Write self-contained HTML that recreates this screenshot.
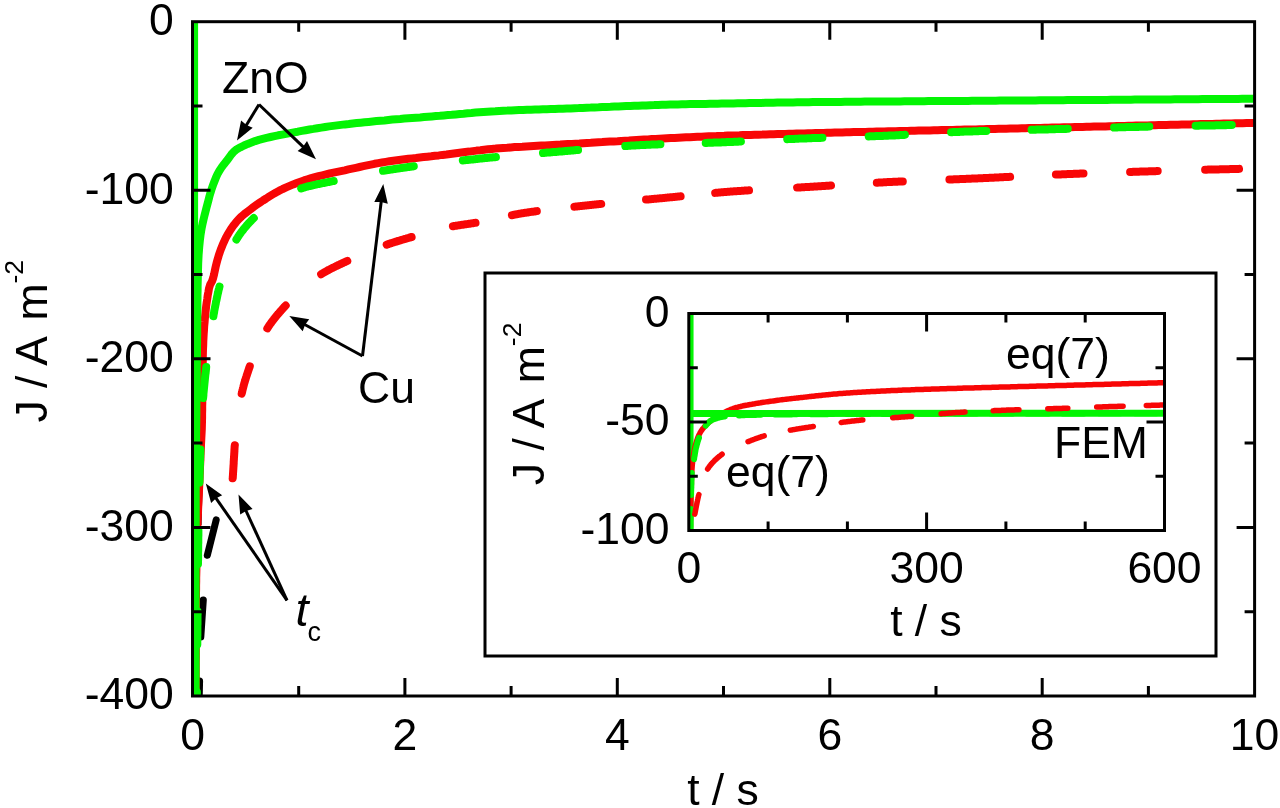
<!DOCTYPE html><html><head><meta charset="utf-8"><style>html,body{margin:0;padding:0;background:#fff;overflow:hidden}svg{display:block}</style></head><body><svg width="1280" height="808" viewBox="0 0 1280 808">
<rect width="1280" height="808" fill="#fff"/>
<defs><clipPath id="cm"><rect x="192.5" y="21.7" width="1062.1" height="674.3"/></clipPath><clipPath id="ci"><rect x="688.8" y="313.5" width="475.7" height="217"/></clipPath></defs>
<line x1="195.6" y1="21.7" x2="195.6" y2="696.0" stroke="#03f403" stroke-width="5"/>
<path d="M232.7,478.3 L232.8,477.6 L232.8,476.8 L232.9,476.0 L232.9,475.2 L233.0,474.4 L233.0,473.6 L233.1,472.8 L233.1,472.0 L233.2,471.3 L233.2,470.5 L233.3,469.7 L233.3,468.9 L233.4,468.1 L233.4,467.3 L233.5,466.5 L233.5,465.7 L233.6,464.9 L233.6,464.2 L233.7,463.4 L233.7,462.6 L233.7,461.8 L233.8,461.0 L233.8,460.2 L233.9,459.4 L233.9,458.6 L234.0,457.8 L234.0,457.1 L234.1,456.3 L234.1,455.5 L234.2,454.7 L234.2,453.9 L234.3,453.1 L234.3,452.3 L234.4,451.5 L234.4,450.7 L234.4,450.0 L234.5,449.2 L234.5,448.4 L234.6,447.6 L234.6,446.8 L234.7,446.0 L234.8,445.2M241.7,393.6 L241.9,392.8 L242.1,392.1 L242.3,391.3 L242.4,390.5 L242.6,389.8 L242.8,389.0 L243.0,388.2 L243.2,387.5 L243.4,386.7 L243.6,385.9 L243.8,385.2 L244.0,384.4 L244.2,383.6 L244.4,382.9 L244.7,382.1 L244.9,381.3 L245.1,380.6 L245.3,379.8 L245.6,379.1 L245.8,378.3 L246.0,377.6 L246.3,376.8 L246.5,376.0 L246.8,375.3 L247.0,374.5 L247.3,373.8 L247.5,373.0 L247.8,372.3 L248.0,371.5 L248.3,370.8 L248.5,370.0 L248.8,369.3 L249.0,368.5 L249.3,367.8 L249.6,367.0 L249.8,366.3M267.3,328.4 L267.7,327.7 L268.2,327.1 L268.6,326.4 L269.0,325.8 L269.5,325.1 L269.9,324.5 L270.4,323.8 L270.9,323.2 L271.3,322.5 L271.8,321.9 L272.3,321.3 L272.8,320.6 L273.2,320.0 L273.7,319.4 L274.2,318.7 L274.7,318.1 L275.2,317.5 L275.7,316.9 L276.2,316.3 L276.7,315.6 L277.2,315.0 L277.7,314.4 L278.3,313.8 L278.8,313.2 L279.3,312.6 L279.8,312.0 L280.3,311.4 L280.9,310.8 L281.4,310.2 L281.9,309.6 L282.5,309.0 L283.0,308.4 L283.5,307.8 L284.1,307.2 L284.6,306.6 L285.1,306.1 L285.7,305.5M321.1,274.2 L321.8,273.8 L322.5,273.4 L323.1,273.0 L323.8,272.6 L324.5,272.2 L325.2,271.9 L325.9,271.5 L326.5,271.1 L327.2,270.7 L327.9,270.3 L328.6,270.0 L329.3,269.6 L330.0,269.2 L330.7,268.9 L331.4,268.5 L332.1,268.1 L332.9,267.8 L333.6,267.4 L334.3,267.1 L335.0,266.7 L335.7,266.4 L336.4,266.0 L337.1,265.7 L337.9,265.3 L338.6,265.0 L339.3,264.6 L340.0,264.3 L340.8,264.0 L341.5,263.6 L342.2,263.3 L342.9,263.0 L343.6,262.6 L344.4,262.3 L345.1,262.0 L345.8,261.6 L346.5,261.3 L347.3,261.0M386.7,244.7 L387.4,244.4 L388.2,244.2 L388.9,243.9 L389.6,243.7 L390.4,243.4 L391.1,243.2 L391.9,242.9 L392.7,242.7 L393.4,242.5 L394.2,242.2 L394.9,242.0 L395.7,241.7 L396.4,241.5 L397.2,241.3 L397.9,241.0 L398.7,240.8 L399.4,240.6 L400.2,240.4 L401.0,240.1 L401.7,239.9 L402.5,239.7 L403.2,239.5 L404.0,239.2 L404.8,239.0 L405.5,238.8 L406.3,238.6 L407.0,238.3 L407.8,238.1 L408.6,237.9 L409.3,237.7 L410.1,237.5 L410.8,237.2 L411.6,237.0M452.9,226.3 L453.6,226.2 L454.4,226.0 L455.2,225.9 L456.0,225.8 L456.7,225.6 L457.5,225.5 L458.3,225.4 L459.1,225.3 L459.9,225.1 L460.6,225.0 L461.4,224.9 L462.2,224.8 L463.0,224.7 L463.8,224.6 L464.6,224.4 L465.3,224.3 L466.1,224.2 L466.9,224.1 L467.7,224.0 L468.5,223.9 L469.3,223.8 L470.0,223.6 L470.8,223.5 L471.6,223.4 L472.4,223.3 L473.2,223.2 L473.9,223.0 L474.7,222.9 L475.5,222.8M511.9,215.2 L512.6,215.1 L513.4,214.9 L514.2,214.7 L515.0,214.6 L515.7,214.4 L516.5,214.3 L517.3,214.1 L518.1,214.0 L518.8,213.9 L519.6,213.7 L520.4,213.6 L521.2,213.4 L521.9,213.3 L522.7,213.2 L523.5,213.1 L524.3,212.9 L525.1,212.8 L525.8,212.7 L526.6,212.6 L527.4,212.5 L528.2,212.3 L529.0,212.2 L529.7,212.1 L530.5,212.0 L531.3,211.9 L532.1,211.8 L532.9,211.7 L533.6,211.6 L534.4,211.5 L535.2,211.3 L536.0,211.2 L536.8,211.1M574.4,206.7 L575.2,206.6 L576.0,206.5 L576.8,206.4 L577.6,206.4 L578.4,206.3 L579.2,206.2 L579.9,206.1 L580.7,206.0 L581.5,205.9 L582.3,205.9 L583.1,205.8 L583.9,205.7 L584.7,205.6 L585.4,205.5 L586.2,205.4 L587.0,205.4 L587.8,205.3 L588.6,205.2 L589.4,205.1 L590.2,205.0 L590.9,204.9 L591.7,204.9 L592.5,204.8 L593.3,204.7 L594.1,204.6 L594.9,204.5 L595.7,204.4 L596.4,204.4 L597.2,204.3 L598.0,204.2 L598.8,204.1 L599.6,204.0 L600.4,204.0 L601.2,203.9M646.0,199.6 L646.8,199.6 L647.5,199.5 L648.3,199.4 L649.1,199.4 L649.9,199.3 L650.7,199.2 L651.5,199.1 L652.3,199.1 L653.1,199.0 L653.8,198.9 L654.6,198.8 L655.4,198.8 L656.2,198.7 L657.0,198.6 L657.8,198.5 L658.6,198.5 L659.3,198.4 L660.1,198.3 L660.9,198.2 L661.7,198.2 L662.5,198.1 L663.3,198.0 L664.1,197.9 L664.9,197.9 L665.6,197.8 L666.4,197.7 L667.2,197.6 L668.0,197.6 L668.8,197.5 L669.6,197.4 L670.4,197.3 L671.1,197.3 L671.9,197.2 L672.7,197.1 L673.5,197.0 L674.3,196.9 L675.1,196.9 L675.9,196.8 L676.6,196.7 L677.4,196.6 L678.2,196.5 L679.0,196.5 L679.8,196.4 L680.6,196.3M715.2,192.9 L716.0,192.8 L716.7,192.8 L717.5,192.7 L718.3,192.6 L719.1,192.5 L719.9,192.5 L720.7,192.4 L721.5,192.3 L722.2,192.3 L723.0,192.2 L723.8,192.1 L724.6,192.1 L725.4,192.0 L726.2,191.9 L727.0,191.9 L727.8,191.8 L728.5,191.8 L729.3,191.7 L730.1,191.6 L730.9,191.6 L731.7,191.5 L732.5,191.5 L733.3,191.4 L734.1,191.3 L734.8,191.3 L735.6,191.2 L736.4,191.2 L737.2,191.1 L738.0,191.1 L738.8,191.0 L739.6,191.0 L740.4,190.9 L741.1,190.9 L741.9,190.8 L742.7,190.7 L743.5,190.7 L744.3,190.6 L745.1,190.6 L745.9,190.5 L746.7,190.5 L747.4,190.4 L748.2,190.4 L749.0,190.3M797.1,187.6 L797.9,187.5 L798.7,187.5 L799.5,187.4 L800.3,187.4 L801.1,187.4 L801.9,187.3 L802.7,187.3 L803.4,187.2 L804.2,187.2 L805.0,187.1 L805.8,187.1 L806.6,187.0 L807.4,187.0 L808.2,186.9 L809.0,186.9 L809.7,186.9 L810.5,186.8 L811.3,186.8 L812.1,186.7 L812.9,186.7 L813.7,186.6 L814.5,186.6 L815.3,186.5 L816.1,186.5 L816.8,186.4 L817.6,186.4 L818.4,186.3 L819.2,186.3 L820.0,186.2 L820.8,186.2 L821.6,186.1 L822.4,186.1 L823.2,186.0 L823.9,186.0 L824.7,185.9 L825.5,185.9 L826.3,185.8 L827.1,185.8 L827.9,185.7 L828.7,185.7 L829.5,185.6 L830.2,185.6 L831.0,185.5M876.8,182.7 L877.6,182.7 L878.3,182.6 L879.1,182.6 L879.9,182.5 L880.7,182.5 L881.5,182.4 L882.3,182.4 L883.1,182.4 L883.9,182.3 L884.6,182.3 L885.4,182.2 L886.2,182.2 L887.0,182.1 L887.8,182.1 L888.6,182.1 L889.4,182.0 L890.2,182.0 L891.0,182.0 L891.7,181.9 L892.5,181.9 L893.3,181.8 L894.1,181.8 L894.9,181.8 L895.7,181.7 L896.5,181.7 L897.3,181.7 L898.1,181.6 L898.8,181.6 L899.6,181.5 L900.4,181.5 L901.2,181.5 L902.0,181.4 L902.8,181.4M949.4,179.5 L950.2,179.5 L950.9,179.5 L951.7,179.4 L952.5,179.4 L953.3,179.4 L954.1,179.3 L954.9,179.3 L955.7,179.3 L956.5,179.3 L957.3,179.2 L958.0,179.2 L958.8,179.2 L959.6,179.1 L960.4,179.1 L961.2,179.1 L962.0,179.0 L962.8,179.0 L963.6,179.0 L964.4,178.9 L965.1,178.9 L965.9,178.9 L966.7,178.8 L967.5,178.8 L968.3,178.8 L969.1,178.7 L969.9,178.7 L970.7,178.7 L971.5,178.6 L972.2,178.6 L973.0,178.6 L973.8,178.5 L974.6,178.5 L975.4,178.5 L976.2,178.4 L977.0,178.4 L977.8,178.4 L978.6,178.3 L979.4,178.3 L980.1,178.3 L980.9,178.2 L981.7,178.2 L982.5,178.2 L983.3,178.1 L984.1,178.1 L984.9,178.1 L985.7,178.0 L986.5,178.0 L987.2,177.9 L988.0,177.9 L988.8,177.9 L989.6,177.8 L990.4,177.8 L991.2,177.8 L992.0,177.7 L992.8,177.7 L993.6,177.7 L994.3,177.6 L995.1,177.6 L995.9,177.5 L996.7,177.5 L997.5,177.5 L998.3,177.4 L999.1,177.4 L999.9,177.3 L1000.7,177.3 L1001.4,177.3 L1002.2,177.2 L1003.0,177.2 L1003.8,177.1 L1004.6,177.1 L1005.4,177.1 L1006.2,177.0 L1007.0,177.0 L1007.8,177.0 L1008.5,176.9 L1009.3,176.9 L1010.1,176.8M1055.9,174.6 L1056.7,174.6 L1057.5,174.5 L1058.2,174.5 L1059.0,174.5 L1059.8,174.4 L1060.6,174.4 L1061.4,174.4 L1062.2,174.3 L1063.0,174.3 L1063.8,174.3 L1064.6,174.2 L1065.4,174.2 L1066.1,174.2 L1066.9,174.1 L1067.7,174.1 L1068.5,174.1 L1069.3,174.0 L1070.1,174.0 L1070.9,174.0 L1071.7,173.9 L1072.5,173.9 L1073.2,173.9 L1074.0,173.8 L1074.8,173.8 L1075.6,173.8 L1076.4,173.8 L1077.2,173.7 L1078.0,173.7 L1078.8,173.7 L1079.6,173.6 L1080.3,173.6 L1081.1,173.6 L1081.9,173.5 L1082.7,173.5 L1083.5,173.5M1130.1,171.9 L1130.9,171.9 L1131.7,171.9 L1132.5,171.9 L1133.2,171.8 L1134.0,171.8 L1134.8,171.8 L1135.6,171.8 L1136.4,171.7 L1137.2,171.7 L1138.0,171.7 L1138.8,171.7 L1139.6,171.6 L1140.3,171.6 L1141.1,171.6 L1141.9,171.6 L1142.7,171.5 L1143.5,171.5 L1144.3,171.5 L1145.1,171.5 L1145.9,171.4 L1146.7,171.4 L1147.5,171.4 L1148.2,171.4 L1149.0,171.3 L1149.8,171.3 L1150.6,171.3 L1151.4,171.3 L1152.2,171.2 L1153.0,171.2 L1153.8,171.2 L1154.6,171.2 L1155.3,171.2 L1156.1,171.1 L1156.9,171.1 L1157.7,171.1M1205.1,169.7 L1205.9,169.7 L1206.7,169.7 L1207.5,169.6 L1208.2,169.6 L1209.0,169.6 L1209.8,169.6 L1210.6,169.6 L1211.4,169.6 L1212.2,169.5 L1213.0,169.5 L1213.8,169.5 L1214.6,169.5 L1215.4,169.5 L1216.1,169.4 L1216.9,169.4 L1217.7,169.4 L1218.5,169.4 L1219.3,169.4 L1220.1,169.3 L1220.9,169.3 L1221.7,169.3 L1222.5,169.3 L1223.3,169.3 L1224.0,169.3 L1224.8,169.2 L1225.6,169.2 L1226.4,169.2 L1227.2,169.2 L1228.0,169.2 L1228.8,169.2 L1229.6,169.1 L1230.4,169.1 L1231.1,169.1 L1231.9,169.1 L1232.7,169.1 L1233.5,169.1 L1234.3,169.0 L1235.1,169.0 L1235.9,169.0 L1236.7,169.0 L1237.5,169.0 L1238.3,169.0 L1239.0,168.9" fill="none" stroke="#f80606" stroke-width="8" stroke-linecap="round" stroke-linejoin="round" clip-path="url(#cm)"/>
<path d="M216.2,519.9L207.3,555.3M203.3,600L200.8,637M199.6,681L199.2,697" stroke="#000" stroke-width="7" stroke-linecap="round" clip-path="url(#cm)"/>
<path d="M200.8,486L199.8,525" stroke="#000" stroke-width="3.5"/>
<path d="M195.7,700.0 L195.7,696.2 L195.7,692.4 L195.7,688.6 L195.7,684.7 L195.7,680.9 L195.7,677.1 L195.7,673.3 L195.7,669.5 L195.7,665.7 L195.7,661.9 L195.8,658.0 L195.8,654.2 L195.8,650.4 L195.8,646.6 L195.8,642.8 L195.8,639.0 L195.8,635.2 L195.9,631.3 L195.9,627.5 L195.9,623.7 L195.9,619.9 L195.9,616.1 L195.9,612.3 L196.0,608.5 L196.0,604.6 L196.0,600.8 L196.0,597.0 L196.0,593.2 L196.1,589.4 L196.1,585.6 L196.2,581.7 L196.2,577.9 L196.3,574.1 L196.4,570.3 L196.4,566.5 L196.5,562.7 L196.6,558.9 L196.7,555.1 L196.7,551.2 L196.8,547.4 L196.9,543.6 L197.0,539.8 L197.1,536.0 L197.2,532.2 L197.3,528.4 L197.5,524.5 L197.6,520.7 L197.8,516.9 L198.0,513.1 L198.1,509.3 L198.3,505.5 L198.5,501.7 L198.7,497.9 L198.9,494.1 L199.0,490.3 L199.2,486.4 L199.4,482.6 L199.6,478.8 L199.7,475.0 L199.9,471.2 L200.0,467.4 L200.2,463.6 L200.4,459.8 L200.5,456.0 L200.7,452.1 L200.9,448.3 L201.0,444.5 L201.2,440.7 L201.4,436.9 L201.6,433.1 L201.8,429.3 L201.9,425.5 L202.0,421.7 L202.1,417.8 L202.1,414.0 L202.2,410.2 L202.2,406.4 L202.3,402.6 L202.3,398.8 L202.3,394.9 L202.4,391.1 L202.4,387.3 L202.4,383.5 L202.5,379.7 L202.5,375.9 L202.6,372.0 L202.6,368.2 L202.7,364.4 L202.8,360.6 L202.8,356.8 L202.9,353.0 L203.0,349.2 L203.2,345.3 L203.3,341.5 L203.5,337.6 L203.7,333.7 L204.0,329.9 L204.2,326.0 L204.6,322.1 L204.9,318.3 L205.3,314.5 L205.7,310.6 L206.1,306.8 L206.6,303.1 L207.2,299.3 L207.7,295.6 L208.4,292.0 L209.0,288.4 L210.1,284.8 L212.0,281.4 L213.2,277.9 L214.1,274.2 L214.9,270.4 L215.7,266.6 L216.6,263.0 L217.6,259.3 L218.7,255.6 L219.9,252.0 L221.2,248.4 L222.6,244.9 L224.2,241.3 L225.8,237.9 L227.6,234.6 L229.6,231.3 L231.7,228.0 L233.9,224.9 L236.3,221.9 L238.8,219.1 L241.5,216.5 L244.4,214.0 L247.5,211.6 L250.5,209.3 L253.5,207.0 L256.6,204.8 L259.8,202.6 L263.0,200.5 L266.2,198.5 L269.4,196.4 L272.7,194.4 L276.0,192.5 L279.3,190.7 L282.7,189.0 L286.2,187.4 L289.7,185.9 L293.2,184.4 L296.8,183.0 L300.4,181.7 L304.0,180.4 L307.6,179.3 L311.2,178.2 L314.9,177.2 L318.6,176.2 L322.3,175.3 L326.0,174.4 L329.7,173.5 L333.5,172.7 L337.2,171.9 L340.9,171.1 L344.7,170.3 L348.4,169.4 L352.1,168.6 L355.9,167.8 L359.6,167.0 L363.3,166.2 L367.0,165.4 L370.8,164.6 L374.5,163.8 L378.3,163.1 L382.0,162.5 L385.8,161.9 L389.5,161.3 L393.3,160.8 L397.1,160.3 L400.9,159.8 L404.7,159.3 L408.4,158.8 L412.2,158.4 L416.0,158.0 L419.8,157.5 L423.6,157.1 L427.4,156.7 L431.2,156.3 L435.0,155.8 L438.8,155.4 L442.6,154.9 L446.4,154.5 L450.2,154.0 L453.9,153.5 L457.7,153.0 L461.5,152.5 L465.3,152.0 L469.1,151.6 L472.9,151.1 L476.7,150.6 L480.4,150.2 L484.2,149.7 L488.0,149.3 L491.8,148.9 L495.6,148.6 L499.4,148.2 L503.2,147.9 L507.0,147.7 L510.8,147.4 L514.6,147.1 L518.4,146.9 L522.2,146.7 L526.0,146.4 L529.8,146.2 L533.7,146.0 L537.5,145.8 L541.3,145.6 L545.1,145.4 L548.9,145.2 L552.7,145.0 L556.5,144.8 L560.3,144.6 L564.1,144.3 L567.9,144.1 L571.8,143.9 L575.6,143.7 L579.4,143.5 L583.2,143.2 L587.0,143.0 L590.8,142.8 L594.6,142.5 L598.4,142.3 L602.2,142.1 L606.0,141.8 L609.8,141.6 L613.6,141.4 L617.5,141.2 L621.3,140.9 L625.1,140.7 L628.9,140.5 L632.7,140.2 L636.5,140.0 L640.3,139.8 L644.1,139.6 L647.9,139.4 L651.7,139.1 L655.5,138.9 L659.3,138.7 L663.2,138.5 L667.0,138.3 L670.8,138.1 L674.6,137.9 L678.4,137.7 L682.2,137.5 L686.0,137.3 L689.8,137.2 L693.6,137.0 L697.4,136.8 L701.3,136.7 L705.1,136.5 L708.9,136.3 L712.7,136.2 L716.5,136.1 L720.3,135.9 L724.1,135.8 L727.9,135.6 L731.7,135.5 L735.6,135.4 L739.4,135.3 L743.2,135.1 L747.0,135.0 L750.8,134.9 L754.6,134.8 L758.4,134.7 L762.2,134.6 L766.1,134.4 L769.9,134.3 L773.7,134.2 L777.5,134.1 L781.3,134.0 L785.1,133.9 L788.9,133.8 L792.8,133.7 L796.6,133.6 L800.4,133.5 L804.2,133.4 L808.0,133.3 L811.8,133.2 L815.6,133.1 L819.4,133.0 L823.3,132.9 L827.1,132.8 L830.9,132.7 L834.7,132.6 L838.5,132.5 L842.3,132.4 L846.1,132.3 L849.9,132.2 L853.8,132.1 L857.6,132.0 L861.4,131.9 L865.2,131.9 L869.0,131.8 L872.8,131.7 L876.6,131.6 L880.5,131.5 L884.3,131.4 L888.1,131.3 L891.9,131.2 L895.7,131.2 L899.5,131.1 L903.3,131.0 L907.2,130.9 L911.0,130.8 L914.8,130.7 L918.6,130.6 L922.4,130.6 L926.2,130.5 L930.0,130.4 L933.8,130.3 L937.7,130.2 L941.5,130.1 L945.3,130.0 L949.1,130.0 L952.9,129.9 L956.7,129.8 L960.5,129.7 L964.4,129.6 L968.2,129.5 L972.0,129.5 L975.8,129.4 L979.6,129.3 L983.4,129.2 L987.2,129.1 L991.1,129.0 L994.9,128.9 L998.7,128.8 L1002.5,128.8 L1006.3,128.7 L1010.1,128.6 L1013.9,128.5 L1017.7,128.4 L1021.6,128.3 L1025.4,128.2 L1029.2,128.1 L1033.0,128.0 L1036.8,128.0 L1040.6,127.9 L1044.4,127.8 L1048.3,127.7 L1052.1,127.6 L1055.9,127.5 L1059.7,127.4 L1063.5,127.3 L1067.3,127.2 L1071.1,127.2 L1075.0,127.1 L1078.8,127.0 L1082.6,126.9 L1086.4,126.8 L1090.2,126.7 L1094.0,126.6 L1097.8,126.5 L1101.6,126.4 L1105.5,126.4 L1109.3,126.3 L1113.1,126.2 L1116.9,126.1 L1120.7,126.0 L1124.5,125.9 L1128.3,125.8 L1132.2,125.7 L1136.0,125.6 L1139.8,125.6 L1143.6,125.5 L1147.4,125.4 L1151.2,125.3 L1155.0,125.2 L1158.8,125.1 L1162.7,125.0 L1166.5,124.9 L1170.3,124.8 L1174.1,124.8 L1177.9,124.7 L1181.7,124.6 L1185.5,124.5 L1189.4,124.4 L1193.2,124.3 L1197.0,124.2 L1200.8,124.1 L1204.6,124.0 L1208.4,124.0 L1212.2,123.9 L1216.1,123.8 L1219.9,123.7 L1223.7,123.6 L1227.5,123.5 L1231.3,123.4 L1235.1,123.3 L1238.9,123.2 L1242.7,123.2 L1246.6,123.1 L1250.4,123.0 L1254.2,122.9 L1258.0,122.8" fill="none" stroke="#f80606" stroke-width="8" stroke-linecap="round" stroke-linejoin="round" clip-path="url(#cm)"/>
<path d="M196.8,697.0 L196.8,696.0 L196.8,695.0 L196.8,694.0 L196.9,693.0 L196.9,691.9M197.3,644.6 L197.3,643.6 L197.3,642.6 L197.3,641.6 L197.3,640.6 L197.3,639.6 L197.3,638.6 L197.3,637.6 L197.3,636.6 L197.4,635.6 L197.4,634.6 L197.4,633.6 L197.4,632.6 L197.4,631.6 L197.4,630.5 L197.4,629.5 L197.4,628.5 L197.4,627.5 L197.4,626.5 L197.4,625.5 L197.5,624.5 L197.5,623.5 L197.5,622.5 L197.5,621.5 L197.5,620.5 L197.5,619.5 L197.5,618.5 L197.5,617.5 L197.5,616.5 L197.5,615.5 L197.6,614.4 L197.6,613.4 L197.6,612.4 L197.6,611.4M198.0,564.1 L198.0,563.1 L198.0,562.1 L198.0,561.1 L198.1,560.1 L198.1,559.1 L198.1,558.1 L198.1,557.1 L198.1,556.1 L198.1,555.1 L198.1,554.1 L198.1,553.0 L198.1,552.0 L198.2,551.0 L198.2,550.0 L198.2,549.0 L198.2,548.0 L198.2,547.0 L198.2,546.0 L198.2,545.0 L198.2,544.0 L198.3,543.0 L198.3,542.0 L198.3,541.0 L198.3,540.0 L198.3,539.0 L198.3,537.9 L198.3,536.9 L198.4,535.9 L198.4,534.9 L198.4,533.9 L198.4,532.9 L198.4,531.9 L198.4,530.9 L198.4,529.9M199.4,482.6 L199.5,481.6 L199.5,480.6 L199.5,479.6 L199.5,478.6 L199.6,477.6 L199.6,476.6 L199.6,475.6 L199.6,474.5 L199.7,473.5 L199.7,472.5 L199.7,471.5 L199.8,470.5 L199.8,469.5 L199.8,468.5 L199.8,467.5 L199.9,466.5 L199.9,465.5 L199.9,464.5 L200.0,463.5 L200.0,462.5 L200.0,461.5 L200.1,460.5 L200.1,459.5 L200.1,458.4 L200.2,457.4 L200.2,456.4 L200.2,455.4 L200.3,454.4 L200.3,453.4 L200.3,452.4 L200.4,451.4 L200.4,450.4 L200.4,449.4M203.1,398.1 L203.2,397.1 L203.3,396.1 L203.4,395.1 L203.4,394.1 L203.5,393.1 L203.6,392.1 L203.7,391.1 L203.8,390.1 L203.9,389.1 L204.0,388.1 L204.1,387.1 L204.2,386.1 L204.3,385.1 L204.4,384.1 L204.5,383.1 L204.6,382.1 L204.7,381.1 L204.8,380.1 L204.9,379.1 L205.0,378.1 L205.1,377.1 L205.2,376.1 L205.3,375.1 L205.4,374.1 L205.6,373.1 L205.7,372.1 L205.8,371.1 L205.9,370.1 L206.0,369.1 L206.1,368.1 L206.2,367.1M213.4,316.2 L213.5,315.3 L213.7,314.3 L213.9,313.3 L214.1,312.3 L214.2,311.3 L214.4,310.3 L214.6,309.3 L214.8,308.3 L215.0,307.3 L215.2,306.3 L215.4,305.3 L215.6,304.3 L215.8,303.4 L215.9,302.4 L216.1,301.4 L216.4,300.4 L216.6,299.4 L216.8,298.4 L217.0,297.4 L217.2,296.4 L217.4,295.5 L217.6,294.5 L217.8,293.5 L218.1,292.5 L218.3,291.5 L218.5,290.5 L218.7,289.6 L219.0,288.6 L219.2,287.6 L219.5,286.6M236.4,239.5 L236.9,238.6 L237.5,237.8 L238.0,236.9 L238.6,236.1 L239.1,235.2 L239.7,234.4 L240.3,233.6 L240.9,232.7 L241.5,231.9 L242.1,231.1 L242.8,230.3 L243.4,229.5 L244.0,228.7 L244.7,227.9 L245.4,227.1 L246.0,226.3 L246.7,225.5 L247.4,224.7 L248.1,223.9 L248.8,223.2 L249.5,222.4 L250.2,221.7 L250.9,221.0 L251.6,220.2 L252.3,219.5 L253.0,218.8 L253.8,218.1M301.2,188.4 L302.1,188.1 L303.1,187.8 L304.0,187.5 L305.0,187.3 L305.9,187.0 L306.9,186.7 L307.8,186.5 L308.8,186.2 L309.8,186.0 L310.8,185.8 L311.8,185.5 L312.7,185.3 L313.7,185.1 L314.7,184.9 L315.7,184.7 L316.7,184.4 L317.7,184.2 L318.7,184.0 L319.7,183.8 L320.7,183.6 L321.7,183.4 L322.7,183.2 L323.7,183.0 L324.7,182.8 L325.7,182.6 L326.7,182.4 L327.7,182.2 L328.7,182.0 L329.7,181.8 L330.7,181.6 L331.7,181.4 L332.7,181.2 L333.7,181.0M383.0,170.8 L384.0,170.7 L385.0,170.5 L386.0,170.3 L387.0,170.2 L387.9,170.0 L388.9,169.9 L389.9,169.7 L390.9,169.6 L391.9,169.4 L392.9,169.3 L393.9,169.1 L394.9,169.0 L395.9,168.8 L396.9,168.7 L397.9,168.5 L398.9,168.4 L399.9,168.2 L400.9,168.1 L401.9,167.9 L402.9,167.8 L403.9,167.7 L404.9,167.5 L405.9,167.4 L406.8,167.2 L407.8,167.1 L408.8,167.0 L409.8,166.8 L410.8,166.7 L411.8,166.6 L412.8,166.4 L413.8,166.3M462.8,160.4 L463.8,160.3 L464.8,160.2 L465.8,160.1 L466.8,160.0 L467.8,159.9 L468.8,159.8 L469.8,159.7 L470.8,159.6 L471.8,159.5 L472.9,159.4 L473.9,159.3 L474.9,159.2 L475.9,159.1 L476.9,159.0 L477.9,158.8 L478.9,158.7 L479.9,158.6 L480.9,158.5 L481.9,158.4 L482.9,158.3 L483.9,158.2 L484.9,158.1 L485.9,158.0 L486.9,157.9 L487.9,157.8 L488.9,157.7 L489.9,157.6 L490.9,157.5 L491.9,157.4 L492.9,157.3 L493.9,157.3 L494.9,157.2 L495.9,157.1M543.0,153.0 L544.0,152.9 L545.0,152.8 L546.0,152.7 L547.0,152.6 L548.0,152.5 L549.0,152.5 L550.0,152.4 L551.0,152.3 L552.0,152.2 L553.0,152.1 L554.1,152.0 L555.1,152.0 L556.1,151.9 L557.1,151.8 L558.1,151.7 L559.1,151.6 L560.1,151.5 L561.1,151.5 L562.1,151.4 L563.1,151.3 L564.1,151.2 L565.1,151.1 L566.1,151.0 L567.1,150.9 L568.1,150.8 L569.1,150.8 L570.1,150.7 L571.1,150.6 L572.1,150.5 L573.1,150.4 L574.1,150.3 L575.1,150.2 L576.1,150.1 L577.1,150.0 L578.1,150.0M625.3,146.0 L626.3,145.9 L627.3,145.9 L628.3,145.8 L629.3,145.7 L630.3,145.7 L631.3,145.6 L632.3,145.6 L633.3,145.5 L634.3,145.4 L635.3,145.4 L636.3,145.3 L637.3,145.3 L638.3,145.2 L639.3,145.2 L640.3,145.1 L641.3,145.1 L642.4,145.0 L643.4,145.0 L644.4,144.9 L645.4,144.9 L646.4,144.8 L647.4,144.8 L648.4,144.7 L649.4,144.7 L650.4,144.7 L651.4,144.6 L652.4,144.6 L653.4,144.5 L654.4,144.5 L655.4,144.5 L656.4,144.4 L657.4,144.4 L658.4,144.3 L659.4,144.3 L660.4,144.3M705.7,142.9 L706.7,142.9 L707.7,142.8 L708.7,142.8 L709.8,142.8 L710.8,142.7 L711.8,142.7 L712.8,142.7 L713.8,142.6 L714.8,142.6 L715.8,142.6 L716.8,142.5 L717.8,142.5 L718.8,142.5 L719.8,142.4 L720.8,142.4 L721.8,142.3 L722.8,142.3 L723.8,142.3 L724.8,142.2 L725.8,142.2 L726.9,142.1 L727.9,142.1 L728.9,142.1 L729.9,142.0 L730.9,142.0 L731.9,141.9 L732.9,141.9 L733.9,141.8 L734.9,141.8 L735.9,141.7 L736.9,141.7 L737.9,141.7 L738.9,141.6 L739.9,141.6 L740.9,141.5M787.2,139.2 L788.2,139.1 L789.2,139.1 L790.2,139.0 L791.2,139.0 L792.2,138.9 L793.2,138.9 L794.2,138.9 L795.2,138.8 L796.2,138.8 L797.2,138.7 L798.2,138.7 L799.2,138.6 L800.2,138.6 L801.3,138.5 L802.3,138.5 L803.3,138.5 L804.3,138.4 L805.3,138.4 L806.3,138.4 L807.3,138.3 L808.3,138.3 L809.3,138.2 L810.3,138.2 L811.3,138.2 L812.3,138.1 L813.3,138.1 L814.3,138.1 L815.3,138.0 L816.3,138.0 L817.3,138.0 L818.4,137.9 L819.4,137.9 L820.4,137.9 L821.4,137.8 L822.4,137.8M868.7,136.4 L869.7,136.3 L870.7,136.3 L871.7,136.3 L872.7,136.2 L873.7,136.2 L874.7,136.2 L875.7,136.1 L876.7,136.1 L877.7,136.1 L878.7,136.0 L879.7,136.0 L880.7,135.9 L881.7,135.9 L882.7,135.9 L883.7,135.8 L884.8,135.8 L885.8,135.7 L886.8,135.7 L887.8,135.7 L888.8,135.6 L889.8,135.6 L890.8,135.5 L891.8,135.5 L892.8,135.5 L893.8,135.4 L894.8,135.4 L895.8,135.3 L896.8,135.3 L897.8,135.2 L898.8,135.2 L899.8,135.1 L900.8,135.1 L901.8,135.0 L902.9,135.0 L903.9,134.9 L904.9,134.8M951.1,132.2 L952.1,132.2 L953.1,132.1 L954.1,132.1 L955.1,132.0 L956.1,132.0 L957.1,131.9 L958.1,131.9 L959.1,131.9 L960.1,131.8 L961.2,131.8 L962.2,131.7 L963.2,131.7 L964.2,131.6 L965.2,131.6 L966.2,131.6 L967.2,131.5 L968.2,131.5 L969.2,131.5 L970.2,131.4 L971.2,131.4 L972.2,131.4 L973.2,131.3 L974.2,131.3 L975.2,131.3 L976.2,131.2 L977.2,131.2 L978.2,131.2 L979.3,131.1 L980.3,131.1 L981.3,131.1 L982.3,131.0 L983.3,131.0 L984.3,131.0 L985.3,130.9 L986.3,130.9M1031.6,129.8 L1032.6,129.7 L1033.6,129.7 L1034.6,129.7 L1035.6,129.7 L1036.6,129.6 L1037.6,129.6 L1038.6,129.6 L1039.6,129.6 L1040.6,129.5 L1041.6,129.5 L1042.6,129.5 L1043.7,129.5 L1044.7,129.4 L1045.7,129.4 L1046.7,129.4 L1047.7,129.4 L1048.7,129.3 L1049.7,129.3 L1050.7,129.3 L1051.7,129.3 L1052.7,129.2 L1053.7,129.2 L1054.7,129.2 L1055.7,129.1 L1056.7,129.1 L1057.7,129.1 L1058.7,129.1 L1059.8,129.0 L1060.8,129.0 L1061.8,129.0 L1062.8,128.9 L1063.8,128.9 L1064.8,128.9 L1065.8,128.9 L1066.8,128.8 L1067.8,128.8M1114.1,127.5 L1115.1,127.4 L1116.1,127.4 L1117.1,127.4 L1118.1,127.3 L1119.1,127.3 L1120.1,127.3 L1121.1,127.3 L1122.1,127.2 L1123.1,127.2 L1124.2,127.2 L1125.2,127.2 L1126.2,127.1 L1127.2,127.1 L1128.2,127.1 L1129.2,127.1 L1130.2,127.0 L1131.2,127.0 L1132.2,127.0 L1133.2,127.0 L1134.2,126.9 L1135.2,126.9 L1136.2,126.9 L1137.2,126.9 L1138.2,126.9 L1139.2,126.8 L1140.3,126.8 L1141.3,126.8 L1142.3,126.8 L1143.3,126.7 L1144.3,126.7 L1145.3,126.7 L1146.3,126.7 L1147.3,126.7 L1148.3,126.6 L1149.3,126.6M1195.6,125.7 L1196.6,125.7 L1197.6,125.7 L1198.6,125.7 L1199.6,125.6 L1200.6,125.6 L1201.6,125.6 L1202.6,125.6 L1203.7,125.6 L1204.7,125.6 L1205.7,125.5 L1206.7,125.5 L1207.7,125.5 L1208.7,125.5 L1209.7,125.5 L1210.7,125.4 L1211.7,125.4 L1212.7,125.4 L1213.7,125.4 L1214.7,125.4 L1215.7,125.3 L1216.7,125.3 L1217.7,125.3 L1218.7,125.3 L1219.8,125.3 L1220.8,125.3 L1221.8,125.2 L1222.8,125.2 L1223.8,125.2 L1224.8,125.2 L1225.8,125.2 L1226.8,125.1 L1227.8,125.1 L1228.8,125.1 L1229.8,125.1 L1230.8,125.1 L1231.8,125.1" fill="none" stroke="#03f403" stroke-width="8" stroke-linecap="round" stroke-linejoin="round" clip-path="url(#cm)"/>
<path d="M195.6,700.0 L195.6,696.0 L195.6,692.1 L195.6,688.1 L195.6,684.1 L195.6,680.1 L195.6,676.2 L195.6,672.2 L195.6,668.2 L195.6,664.2 L195.6,660.3 L195.6,656.3 L195.6,652.3 L195.6,648.3 L195.6,644.4 L195.6,640.4 L195.6,636.4 L195.6,632.5 L195.6,628.5 L195.6,624.5 L195.6,620.5 L195.6,616.6 L195.6,612.6 L195.6,608.6 L195.6,604.6 L195.6,600.7 L195.6,596.7 L195.6,592.7 L195.6,588.7 L195.6,584.8 L195.6,580.8 L195.6,576.8 L195.6,572.9 L195.6,568.9 L195.6,564.9 L195.6,560.9 L195.6,557.0 L195.7,553.0 L195.7,549.0 L195.7,545.0 L195.7,541.1 L195.7,537.1 L195.7,533.1 L195.7,529.1 L195.7,525.2 L195.7,521.2 L195.7,517.2 L195.7,513.3 L195.7,509.3 L195.7,505.3 L195.7,501.3 L195.7,497.4 L195.7,493.4 L195.7,489.4 L195.7,485.4 L195.8,481.5 L195.8,477.5 L195.8,473.5 L195.8,469.6 L195.9,465.6 L195.9,461.6 L195.9,457.6 L196.0,453.7 L196.0,449.7 L196.0,445.7 L196.1,441.7 L196.1,437.8 L196.1,433.8 L196.2,429.8 L196.2,425.8 L196.3,421.9 L196.3,417.9 L196.4,413.9 L196.4,410.0 L196.4,406.0 L196.5,402.0 L196.5,398.0 L196.6,394.1 L196.6,390.1 L196.6,386.1 L196.7,382.1 L196.7,378.2 L196.8,374.2 L196.8,370.2 L196.8,366.3 L196.9,362.3 L196.9,358.3 L197.0,354.3 L197.0,350.4 L197.0,346.4 L197.1,342.4 L197.1,338.4 L197.2,334.5 L197.2,330.5 L197.2,326.5 L197.3,322.5 L197.3,318.6 L197.3,314.6 L197.4,310.6 L197.4,306.7 L197.4,302.7 L197.5,298.7 L197.5,294.7 L197.6,290.8 L197.6,286.8 L197.7,282.8 L197.8,278.8 L197.9,274.9 L198.0,270.9 L198.1,266.9 L198.2,263.0 L198.4,259.0 L198.6,255.0 L198.9,251.1 L199.2,247.1 L199.6,243.1 L200.0,239.2 L200.5,235.2 L201.1,231.3 L201.8,227.4 L202.6,223.5 L203.5,219.6 L204.4,215.8 L205.4,211.9 L206.4,208.1 L207.4,204.2 L208.4,200.4 L209.4,196.5 L210.5,192.7 L211.7,188.9 L213.0,185.2 L214.4,181.5 L215.9,177.7 L217.5,174.1 L219.4,170.7 L221.6,167.4 L224.0,164.2 L226.5,161.1 L228.9,157.8 L231.3,154.5 L233.9,151.6 L236.9,149.2 L240.4,147.3 L244.0,145.5 L247.7,143.9 L251.4,142.5 L255.1,141.1 L258.9,139.9 L262.7,138.9 L266.6,137.9 L270.5,137.0 L274.4,136.1 L278.2,135.3 L282.1,134.6 L286.1,133.8 L290.0,133.1 L293.9,132.4 L297.8,131.7 L301.7,130.9 L305.6,130.2 L309.5,129.5 L313.4,128.9 L317.3,128.2 L321.3,127.6 L325.2,127.0 L329.1,126.4 L333.1,125.9 L337.0,125.4 L340.9,124.9 L344.9,124.4 L348.8,124.0 L352.8,123.5 L356.7,123.1 L360.7,122.7 L364.6,122.3 L368.6,121.9 L372.6,121.5 L376.5,121.1 L380.5,120.7 L384.4,120.4 L388.4,120.0 L392.3,119.6 L396.3,119.3 L400.2,119.0 L404.2,118.6 L408.2,118.3 L412.1,118.0 L416.1,117.7 L420.1,117.4 L424.0,117.0 L428.0,116.7 L431.9,116.4 L435.9,116.1 L439.9,115.8 L443.8,115.4 L447.8,115.1 L451.7,114.8 L455.7,114.4 L459.7,114.0 L463.6,113.7 L467.6,113.3 L471.5,113.0 L475.5,112.6 L479.4,112.3 L483.4,112.0 L487.4,111.7 L491.3,111.4 L495.3,111.2 L499.3,110.9 L503.2,110.7 L507.2,110.6 L511.2,110.4 L515.1,110.2 L519.1,110.1 L523.1,110.0 L527.0,109.8 L531.0,109.7 L535.0,109.6 L539.0,109.5 L542.9,109.3 L546.9,109.2 L550.9,109.1 L554.8,109.0 L558.8,108.8 L562.8,108.7 L566.8,108.5 L570.7,108.4 L574.7,108.2 L578.7,108.1 L582.6,107.9 L586.6,107.7 L590.6,107.6 L594.6,107.4 L598.5,107.3 L602.5,107.1 L606.5,106.9 L610.4,106.8 L614.4,106.6 L618.4,106.5 L622.3,106.3 L626.3,106.1 L630.3,106.0 L634.3,105.8 L638.2,105.7 L642.2,105.5 L646.2,105.4 L650.1,105.2 L654.1,105.1 L658.1,104.9 L662.0,104.8 L666.0,104.7 L670.0,104.6 L674.0,104.5 L677.9,104.4 L681.9,104.3 L685.9,104.2 L689.9,104.1 L693.8,104.1 L697.8,104.0 L701.8,103.9 L705.7,103.9 L709.7,103.8 L713.7,103.7 L717.7,103.7 L721.6,103.6 L725.6,103.5 L729.6,103.4 L733.6,103.4 L737.5,103.3 L741.5,103.2 L745.5,103.2 L749.4,103.1 L753.4,103.0 L757.4,102.9 L761.4,102.9 L765.3,102.8 L769.3,102.7 L773.3,102.7 L777.3,102.6 L781.2,102.6 L785.2,102.5 L789.2,102.4 L793.1,102.4 L797.1,102.3 L801.1,102.3 L805.1,102.2 L809.0,102.2 L813.0,102.1 L817.0,102.1 L821.0,102.1 L824.9,102.0 L828.9,102.0 L832.9,101.9 L836.8,101.9 L840.8,101.9 L844.8,101.8 L848.8,101.8 L852.7,101.8 L856.7,101.7 L860.7,101.7 L864.7,101.6 L868.6,101.6 L872.6,101.6 L876.6,101.5 L880.5,101.5 L884.5,101.5 L888.5,101.5 L892.5,101.4 L896.4,101.4 L900.4,101.4 L904.4,101.3 L908.4,101.3 L912.3,101.3 L916.3,101.2 L920.3,101.2 L924.3,101.2 L928.2,101.1 L932.2,101.1 L936.2,101.1 L940.1,101.0 L944.1,101.0 L948.1,101.0 L952.1,101.0 L956.0,100.9 L960.0,100.9 L964.0,100.9 L968.0,100.9 L971.9,100.8 L975.9,100.8 L979.9,100.8 L983.9,100.7 L987.8,100.7 L991.8,100.7 L995.8,100.7 L999.7,100.6 L1003.7,100.6 L1007.7,100.6 L1011.7,100.6 L1015.6,100.5 L1019.6,100.5 L1023.6,100.5 L1027.6,100.4 L1031.5,100.4 L1035.5,100.4 L1039.5,100.3 L1043.4,100.3 L1047.4,100.3 L1051.4,100.3 L1055.4,100.2 L1059.3,100.2 L1063.3,100.2 L1067.3,100.1 L1071.3,100.1 L1075.2,100.1 L1079.2,100.1 L1083.2,100.0 L1087.2,100.0 L1091.1,100.0 L1095.1,99.9 L1099.1,99.9 L1103.0,99.9 L1107.0,99.9 L1111.0,99.8 L1115.0,99.8 L1118.9,99.8 L1122.9,99.7 L1126.9,99.7 L1130.9,99.7 L1134.8,99.6 L1138.8,99.6 L1142.8,99.6 L1146.8,99.6 L1150.7,99.5 L1154.7,99.5 L1158.7,99.5 L1162.6,99.4 L1166.6,99.4 L1170.6,99.4 L1174.6,99.3 L1178.5,99.3 L1182.5,99.3 L1186.5,99.3 L1190.5,99.2 L1194.4,99.2 L1198.4,99.2 L1202.4,99.1 L1206.3,99.1 L1210.3,99.1 L1214.3,99.0 L1218.3,99.0 L1222.2,99.0 L1226.2,98.9 L1230.2,98.9 L1234.2,98.9 L1238.1,98.9 L1242.1,98.8 L1246.1,98.8 L1250.1,98.8 L1254.0,98.7 L1258.0,98.7" fill="none" stroke="#03f403" stroke-width="8" stroke-linecap="round" stroke-linejoin="round" clip-path="url(#cm)"/>
<rect x="192.5" y="21.7" width="1062.1" height="674.3" fill="none" stroke="#000" stroke-width="3"/>
<path d="M298.7,696.0v-10M298.7,21.7v10M404.9,696.0v-18M404.9,21.7v18M511.1,696.0v-10M511.1,21.7v10M617.3,696.0v-18M617.3,21.7v18M723.5,696.0v-10M723.5,21.7v10M829.8,696.0v-18M829.8,21.7v18M936.0,696.0v-10M936.0,21.7v10M1042.2,696.0v-18M1042.2,21.7v18M1148.4,696.0v-10M1148.4,21.7v10M192.5,106.0h10M1254.6,106.0h-10M192.5,190.3h18M1254.6,190.3h-18M192.5,274.6h10M1254.6,274.6h-10M192.5,358.8h18M1254.6,358.8h-18M192.5,443.1h10M1254.6,443.1h-10M192.5,527.4h18M1254.6,527.4h-18M192.5,611.7h10M1254.6,611.7h-10" stroke="#000" stroke-width="3" fill="none"/>
<g style="font-family:'Liberation Sans',Arial,sans-serif;font-size:44.5px" fill="#000">
<text x="192.5" y="749.5" text-anchor="middle">0</text>
<text x="404.9" y="749.5" text-anchor="middle">2</text>
<text x="617.3" y="749.5" text-anchor="middle">4</text>
<text x="829.8" y="749.5" text-anchor="middle">6</text>
<text x="1042.2" y="749.5" text-anchor="middle">8</text>
<text x="1254.6" y="749.5" text-anchor="middle">10</text>
<text x="173.8" y="34.9" text-anchor="end">0</text>
<text x="173.8" y="203.5" text-anchor="end">-100</text>
<text x="173.8" y="372.0" text-anchor="end">-200</text>
<text x="173.8" y="540.6" text-anchor="end">-300</text>
<text x="173.8" y="709.2" text-anchor="end">-400</text>
<text x="723" y="805" text-anchor="middle">t / s</text>
<text transform="translate(46.8,422.6) rotate(-90)">J / A <tspan dx="5.5">m</tspan><tspan font-size="26.5" dy="-23.4">-2</tspan></text>
<text x="222" y="93">ZnO</text>
<text x="358" y="402.5">Cu</text>
<text x="295.6" y="626" font-style="italic" font-size="47">t</text><text x="307.5" y="640.5" font-size="27">c</text>
</g>
<line x1="259.0" y1="104.5" x2="245.4" y2="126.8" stroke="#000" stroke-width="3"/>
<path d="M237.0,140.4L241.1,120.6L246.4,125.1L252.7,127.8Z" fill="#000"/>
<line x1="259.0" y1="104.5" x2="304.5" y2="148.1" stroke="#000" stroke-width="3"/>
<path d="M316.0,159.2L297.6,151.0L303.0,146.7L307.0,141.1Z" fill="#000"/>
<line x1="362.5" y1="356.0" x2="381.4" y2="200.0" stroke="#000" stroke-width="3"/>
<path d="M383.3,184.1L387.8,203.8L381.1,202.0L374.3,202.1Z" fill="#000"/>
<line x1="362.5" y1="356.0" x2="303.3" y2="323.8" stroke="#000" stroke-width="3"/>
<path d="M289.3,316.1L309.2,319.2L305.1,324.7L302.7,331.2Z" fill="#000"/>
<line x1="287.0" y1="600.3" x2="214.9" y2="496.6" stroke="#000" stroke-width="3"/>
<path d="M205.8,483.5L222.2,495.2L216.1,498.3L211.1,503.0Z" fill="#000"/>
<line x1="287.0" y1="600.3" x2="245.2" y2="509.0" stroke="#000" stroke-width="3"/>
<path d="M238.5,494.5L252.6,508.9L246.0,510.9L240.2,514.6Z" fill="#000"/>
<rect x="485" y="273" width="731" height="383" fill="#fff" stroke="#000" stroke-width="3"/>
<line x1="691.3" y1="313.5" x2="691.3" y2="530.5" stroke="#03f403" stroke-width="4.5" />
<path d="M690.3,531.0 L690.3,529.6 L690.3,528.1 L690.4,526.7 L690.4,525.2 L690.4,523.8 L690.4,522.3 L690.4,520.9 L690.5,519.4 L690.5,518.0 L690.5,516.6 L690.6,515.1 L690.6,513.7 L690.6,512.2 L690.7,510.8 L690.7,509.3 L690.7,507.9 L690.8,506.5 L690.8,505.0 L690.8,503.6 L690.9,502.1 L690.9,500.7 L690.9,499.2 L691.0,497.8 L691.0,496.4 L691.1,494.9 L691.1,493.5 L691.1,492.0 L691.2,490.6 L691.2,489.1 L691.3,487.7 L691.3,486.2 L691.4,484.8 L691.4,483.4 L691.4,481.9 L691.5,480.5 L691.5,479.0 L691.6,477.6 L691.6,476.1 L691.7,474.7 L691.8,473.3 L691.8,471.8 L691.9,470.4 L692.0,468.9 L692.1,467.5 L692.2,466.1 L692.3,464.6 L692.5,463.2 L692.6,461.7 L692.8,460.3 L693.0,458.9 L693.2,457.4 L693.4,456.0 L693.6,454.6 L693.8,453.1 L694.0,451.7 L694.3,450.3 L694.6,448.9 L694.9,447.5 L695.2,446.1 L695.6,444.7 L696.0,443.3 L696.4,441.9 L696.8,440.5 L697.3,439.1 L697.8,437.8 L698.3,436.4 L698.9,435.1 L699.6,433.8 L700.2,432.6 L701.0,431.3 L701.8,430.1 L702.6,428.9 L703.6,427.8 L704.5,426.7 L705.5,425.6 L706.5,424.5 L707.5,423.6 L708.5,422.6 L709.7,421.7 L710.8,420.8 L712.0,420.0 L713.2,419.2 L714.5,418.4 L715.7,417.6 L716.9,416.9 L718.1,416.1 L719.4,415.3 L720.6,414.6 L721.9,413.8 L723.2,413.1 L724.5,412.4 L725.8,411.7 L727.1,411.1 L728.4,410.5 L729.7,409.9 L731.0,409.3 L732.4,408.8 L733.7,408.3 L735.0,407.9 L736.4,407.5 L737.8,407.2 L739.1,406.8 L740.5,406.5 L741.9,406.1 L743.3,405.8 L744.7,405.5 L746.2,405.2 L747.6,405.0 L749.0,404.7 L750.4,404.4 L751.9,404.2 L753.3,403.9 L754.8,403.7 L756.2,403.4 L757.6,403.2 L759.1,403.0 L760.5,402.8 L761.9,402.5 L763.4,402.3 L764.8,402.1 L766.2,401.9 L767.7,401.7 L769.1,401.5 L770.5,401.3 L771.9,401.1 L773.4,400.9 L774.8,400.7 L776.2,400.5 L777.7,400.3 L779.1,400.1 L780.5,399.9 L782.0,399.7 L783.4,399.6 L784.8,399.4 L786.3,399.2 L787.7,399.1 L789.1,398.9 L790.6,398.7 L792.0,398.6 L793.4,398.4 L794.9,398.2 L796.3,398.1 L797.8,397.9 L799.2,397.7 L800.6,397.6 L802.1,397.4 L803.5,397.3 L804.9,397.1 L806.4,396.9 L807.8,396.8 L809.2,396.6 L810.7,396.5 L812.1,396.3 L813.5,396.2 L815.0,396.0 L816.4,395.8 L817.8,395.7 L819.3,395.5 L820.7,395.4 L822.2,395.2 L823.6,395.1 L825.0,394.9 L826.5,394.8 L827.9,394.7 L829.3,394.5 L830.8,394.4 L832.2,394.2 L833.7,394.1 L835.1,394.0 L836.5,393.9 L838.0,393.7 L839.4,393.6 L840.9,393.5 L842.3,393.4 L843.7,393.3 L845.2,393.2 L846.6,393.1 L848.0,393.0 L849.5,392.9 L850.9,392.8 L852.4,392.7 L853.8,392.6 L855.3,392.5 L856.7,392.4 L858.1,392.3 L859.6,392.3 L861.0,392.2 L862.5,392.1 L863.9,392.0 L865.3,391.9 L866.8,391.8 L868.2,391.8 L869.7,391.7 L871.1,391.6 L872.6,391.5 L874.0,391.5 L875.4,391.4 L876.9,391.3 L878.3,391.2 L879.8,391.2 L881.2,391.1 L882.7,391.0 L884.1,391.0 L885.5,390.9 L887.0,390.8 L888.4,390.8 L889.9,390.7 L891.3,390.6 L892.8,390.6 L894.2,390.5 L895.6,390.4 L897.1,390.4 L898.5,390.3 L900.0,390.3 L901.4,390.2 L902.9,390.1 L904.3,390.1 L905.7,390.0 L907.2,390.0 L908.6,389.9 L910.1,389.9 L911.5,389.8 L913.0,389.8 L914.4,389.7 L915.8,389.6 L917.3,389.6 L918.7,389.5 L920.2,389.5 L921.6,389.4 L923.1,389.4 L924.5,389.3 L925.9,389.3 L927.4,389.2 L928.8,389.2 L930.3,389.2 L931.7,389.1 L933.2,389.1 L934.6,389.0 L936.0,389.0 L937.5,388.9 L938.9,388.9 L940.4,388.8 L941.8,388.8 L943.3,388.7 L944.7,388.7 L946.1,388.7 L947.6,388.6 L949.0,388.6 L950.5,388.5 L951.9,388.5 L953.4,388.4 L954.8,388.4 L956.2,388.4 L957.7,388.3 L959.1,388.3 L960.6,388.2 L962.0,388.2 L963.5,388.1 L964.9,388.1 L966.4,388.1 L967.8,388.0 L969.2,388.0 L970.7,387.9 L972.1,387.9 L973.6,387.9 L975.0,387.8 L976.5,387.8 L977.9,387.7 L979.3,387.7 L980.8,387.7 L982.2,387.6 L983.7,387.6 L985.1,387.5 L986.6,387.5 L988.0,387.5 L989.4,387.4 L990.9,387.4 L992.3,387.3 L993.8,387.3 L995.2,387.3 L996.7,387.2 L998.1,387.2 L999.6,387.1 L1001.0,387.1 L1002.4,387.1 L1003.9,387.0 L1005.3,387.0 L1006.8,386.9 L1008.2,386.9 L1009.7,386.9 L1011.1,386.8 L1012.5,386.8 L1014.0,386.7 L1015.4,386.7 L1016.9,386.7 L1018.3,386.6 L1019.8,386.6 L1021.2,386.5 L1022.6,386.5 L1024.1,386.5 L1025.5,386.4 L1027.0,386.4 L1028.4,386.4 L1029.9,386.3 L1031.3,386.3 L1032.8,386.2 L1034.2,386.2 L1035.6,386.2 L1037.1,386.1 L1038.5,386.1 L1040.0,386.1 L1041.4,386.0 L1042.9,386.0 L1044.3,385.9 L1045.7,385.9 L1047.2,385.9 L1048.6,385.8 L1050.1,385.8 L1051.5,385.8 L1053.0,385.7 L1054.4,385.7 L1055.9,385.6 L1057.3,385.6 L1058.7,385.6 L1060.2,385.5 L1061.6,385.5 L1063.1,385.5 L1064.5,385.4 L1066.0,385.4 L1067.4,385.3 L1068.8,385.3 L1070.3,385.3 L1071.7,385.2 L1073.2,385.2 L1074.6,385.1 L1076.1,385.1 L1077.5,385.1 L1078.9,385.0 L1080.4,385.0 L1081.8,385.0 L1083.3,384.9 L1084.7,384.9 L1086.2,384.8 L1087.6,384.8 L1089.1,384.8 L1090.5,384.7 L1091.9,384.7 L1093.4,384.6 L1094.8,384.6 L1096.3,384.6 L1097.7,384.5 L1099.2,384.5 L1100.6,384.4 L1102.0,384.4 L1103.5,384.4 L1104.9,384.3 L1106.4,384.3 L1107.8,384.2 L1109.3,384.2 L1110.7,384.2 L1112.1,384.1 L1113.6,384.1 L1115.0,384.0 L1116.5,384.0 L1117.9,384.0 L1119.4,383.9 L1120.8,383.9 L1122.3,383.8 L1123.7,383.8 L1125.1,383.8 L1126.6,383.7 L1128.0,383.7 L1129.5,383.6 L1130.9,383.6 L1132.4,383.6 L1133.8,383.5 L1135.2,383.5 L1136.7,383.4 L1138.1,383.4 L1139.6,383.4 L1141.0,383.3 L1142.5,383.3 L1143.9,383.2 L1145.3,383.2 L1146.8,383.2 L1148.2,383.1 L1149.7,383.1 L1151.1,383.0 L1152.6,383.0 L1154.0,383.0 L1155.5,382.9 L1156.9,382.9 L1158.3,382.8 L1159.8,382.8 L1161.2,382.8 L1162.7,382.7 L1164.1,382.7 L1165.6,382.6 L1167.0,382.6" fill="none" stroke="#f80606" stroke-width="5.5" stroke-linecap="round" stroke-linejoin="round" clip-path="url(#ci)"/>
<path d="M690.3,531.0 L690.3,529.6 L690.3,528.1 L690.4,526.7 L690.4,525.3 L690.4,523.8 L690.4,522.4 L690.4,521.0 L690.5,519.5 L690.5,518.1 L690.5,516.7 L690.6,515.2 L690.6,513.8 L690.6,512.4 L690.7,510.9 L690.7,509.5 L690.7,508.1 L690.8,506.6 L690.8,505.2 L690.8,503.8 L690.9,502.3 L690.9,500.9 L690.9,499.5 L691.0,498.0 L691.0,496.6 L691.1,495.2 L691.1,493.7 L691.1,492.3 L691.2,490.9 L691.2,489.4 L691.3,488.0 L691.3,486.6 L691.3,485.1 L691.4,483.7 L691.4,482.3 L691.4,480.8 L691.5,479.4 L691.5,478.0 L691.6,476.5 L691.7,475.1 L691.7,473.7 L691.8,472.2 L691.9,470.8 L692.0,469.4 L692.1,468.0 L692.4,466.6 L692.7,465.2 L693.0,463.8 L693.4,462.4 L693.7,461.0 L694.0,459.6 L694.2,458.2 L694.4,456.7 L694.7,455.3 L694.9,453.9 L695.1,452.5 L695.4,451.1 L695.6,449.7 L695.9,448.3 L696.3,446.9 L696.6,445.5 L697.0,444.1 L697.4,442.7 L697.8,441.3 L698.2,440.0 L698.7,438.6 L699.2,437.3 L699.7,435.9 L700.3,434.6 L700.9,433.3 L701.6,432.0 L702.3,430.7 L703.0,429.5 L703.8,428.3 L704.6,427.2 L705.5,426.0 L706.4,424.8 L707.4,423.7 L708.4,422.6 L709.5,421.6 L710.6,420.8 L711.8,420.1 L713.0,419.6 L714.2,419.0 L715.6,418.6 L717.0,418.1 L718.4,417.7 L719.8,417.4 L721.3,417.1 L722.7,416.8 L724.2,416.6 L725.6,416.4 L727.0,416.3 L728.4,416.2 L729.8,416.0 L731.3,415.9 L732.7,415.8 L734.1,415.7 L735.6,415.6 L737.0,415.5 L738.4,415.4 L739.9,415.4 L741.3,415.3 L742.7,415.2 L744.2,415.2 L745.6,415.1 L747.1,415.1 L748.5,415.0 L749.9,415.0 L751.4,415.0 L752.8,414.9 L754.2,414.9 L755.7,414.9 L757.1,414.8 L758.5,414.8 L760.0,414.8 L761.4,414.8 L762.8,414.7 L764.3,414.7 L765.7,414.7 L767.1,414.7 L768.6,414.6 L770.0,414.6 L771.4,414.6 L772.9,414.6 L774.3,414.5 L775.7,414.5 L777.2,414.5 L778.6,414.5 L780.0,414.5 L781.5,414.5 L782.9,414.4 L784.3,414.4 L785.8,414.4 L787.2,414.4 L788.6,414.4 L790.1,414.4 L791.5,414.4 L792.9,414.3 L794.4,414.3 L795.8,414.3 L797.2,414.3 L798.7,414.3 L800.1,414.3 L801.5,414.3 L803.0,414.3 L804.4,414.3 L805.8,414.3 L807.3,414.3 L808.7,414.3 L810.1,414.2 L811.6,414.2 L813.0,414.2 L814.4,414.2 L815.9,414.2 L817.3,414.2 L818.7,414.2 L820.2,414.2 L821.6,414.2 L823.0,414.2 L824.5,414.2 L825.9,414.2 L827.3,414.2 L828.8,414.1 L830.2,414.1 L831.6,414.1 L833.0,414.1 L834.5,414.1 L835.9,414.1 L837.3,414.1 L838.8,414.1 L840.2,414.1 L841.6,414.1 L843.1,414.1 L844.5,414.1 L845.9,414.1 L847.4,414.1 L848.8,414.0 L850.2,414.0 L851.7,414.0 L853.1,414.0 L854.5,414.0 L856.0,414.0 L857.4,414.0 L858.8,414.0 L860.3,414.0 L861.7,414.0 L863.1,414.0 L864.6,414.0 L866.0,414.0 L867.4,414.0 L868.9,414.0 L870.3,414.0 L871.7,413.9 L873.2,413.9 L874.6,413.9 L876.0,413.9 L877.5,413.9 L878.9,413.9 L880.3,413.9 L881.8,413.9 L883.2,413.9 L884.6,413.9 L886.1,413.9 L887.5,413.9 L888.9,413.9 L890.4,413.9 L891.8,413.9 L893.2,413.9 L894.7,413.8 L896.1,413.8 L897.5,413.8 L899.0,413.8 L900.4,413.8 L901.8,413.8 L903.3,413.8 L904.7,413.8 L906.1,413.8 L907.6,413.8 L909.0,413.8 L910.4,413.8 L911.9,413.8 L913.3,413.8 L914.7,413.8 L916.2,413.8 L917.6,413.8 L919.0,413.8 L920.5,413.7 L921.9,413.7 L923.3,413.7 L924.8,413.7 L926.2,413.7 L927.6,413.7 L929.1,413.7 L930.5,413.7 L931.9,413.7 L933.4,413.7 L934.8,413.7 L936.2,413.7 L937.7,413.7 L939.1,413.7 L940.5,413.7 L942.0,413.7 L943.4,413.7 L944.8,413.7 L946.3,413.7 L947.7,413.7 L949.1,413.6 L950.6,413.6 L952.0,413.6 L953.4,413.6 L954.9,413.6 L956.3,413.6 L957.7,413.6 L959.2,413.6 L960.6,413.6 L962.0,413.6 L963.5,413.6 L964.9,413.6 L966.3,413.6 L967.8,413.6 L969.2,413.6 L970.6,413.6 L972.1,413.6 L973.5,413.6 L974.9,413.6 L976.4,413.6 L977.8,413.6 L979.2,413.6 L980.7,413.6 L982.1,413.6 L983.5,413.5 L985.0,413.5 L986.4,413.5 L987.8,413.5 L989.3,413.5 L990.7,413.5 L992.1,413.5 L993.6,413.5 L995.0,413.5 L996.4,413.5 L997.9,413.5 L999.3,413.5 L1000.7,413.5 L1002.2,413.5 L1003.6,413.5 L1005.0,413.5 L1006.5,413.5 L1007.9,413.5 L1009.3,413.5 L1010.8,413.5 L1012.2,413.5 L1013.6,413.5 L1015.1,413.5 L1016.5,413.5 L1017.9,413.5 L1019.4,413.5 L1020.8,413.5 L1022.2,413.5 L1023.7,413.5 L1025.1,413.4 L1026.5,413.4 L1028.0,413.4 L1029.4,413.4 L1030.8,413.4 L1032.3,413.4 L1033.7,413.4 L1035.1,413.4 L1036.6,413.4 L1038.0,413.4 L1039.4,413.4 L1040.9,413.4 L1042.3,413.4 L1043.7,413.4 L1045.2,413.4 L1046.6,413.4 L1048.0,413.4 L1049.5,413.4 L1050.9,413.4 L1052.3,413.4 L1053.8,413.4 L1055.2,413.4 L1056.6,413.4 L1058.1,413.4 L1059.5,413.4 L1060.9,413.4 L1062.4,413.4 L1063.8,413.4 L1065.2,413.4 L1066.7,413.4 L1068.1,413.4 L1069.5,413.4 L1071.0,413.4 L1072.4,413.4 L1073.8,413.4 L1075.3,413.4 L1076.7,413.4 L1078.1,413.4 L1079.6,413.4 L1081.0,413.4 L1082.4,413.4 L1083.9,413.4 L1085.3,413.3 L1086.7,413.3 L1088.2,413.3 L1089.6,413.3 L1091.0,413.3 L1092.5,413.3 L1093.9,413.3 L1095.3,413.3 L1096.8,413.3 L1098.2,413.3 L1099.6,413.3 L1101.1,413.3 L1102.5,413.3 L1103.9,413.3 L1105.4,413.3 L1106.8,413.3 L1108.2,413.3 L1109.7,413.3 L1111.1,413.3 L1112.5,413.3 L1114.0,413.3 L1115.4,413.3 L1116.8,413.3 L1118.3,413.3 L1119.7,413.3 L1121.1,413.3 L1122.6,413.3 L1124.0,413.3 L1125.4,413.3 L1126.9,413.3 L1128.3,413.3 L1129.7,413.3 L1131.2,413.3 L1132.6,413.3 L1134.0,413.3 L1135.5,413.3 L1136.9,413.3 L1138.3,413.3 L1139.8,413.3 L1141.2,413.3 L1142.6,413.3 L1144.1,413.3 L1145.5,413.3 L1146.9,413.3 L1148.4,413.3 L1149.8,413.3 L1151.2,413.3 L1152.7,413.3 L1154.1,413.3 L1155.5,413.3 L1157.0,413.3 L1158.4,413.3 L1159.8,413.3 L1161.3,413.3 L1162.7,413.3 L1164.1,413.3 L1165.6,413.3 L1167.0,413.3" fill="none" stroke="#03f403" stroke-width="6" stroke-linecap="round" stroke-linejoin="round" stroke-dasharray="22 14" clip-path="url(#ci)"/>
<path d="M691,413.5 L1167,413.3" stroke="#03f403" stroke-width="7" clip-path="url(#ci)"/>
<path d="M694.8,514.1 L694.9,513.7 L695.0,513.4 L695.0,513.0 L695.1,512.7 L695.2,512.3 L695.2,512.0 L695.3,511.6 L695.4,511.3 L695.4,510.9 L695.5,510.6 L695.6,510.2 L695.6,509.9 L695.7,509.5 L695.8,509.2 L695.8,508.8 L695.9,508.5 L696.0,508.1 L696.0,507.8 L696.1,507.4 L696.2,507.1 L696.2,506.7 L696.3,506.4 L696.4,506.0 L696.4,505.7 L696.5,505.3 L696.6,505.0 L696.6,504.6 L696.7,504.3 L696.8,503.9 L696.9,503.6 L696.9,503.2 L697.0,502.9 L697.1,502.5 L697.1,502.2 L697.2,501.8 L697.3,501.5 L697.4,501.1 L697.4,500.8 L697.5,500.4 L697.6,500.1 L697.7,499.7 L697.7,499.4 L697.8,499.0 L697.9,498.7 L698.0,498.3 L698.0,498.0 L698.1,497.6 L698.2,497.3 L698.3,496.9 L698.4,496.6 L698.4,496.2 L698.5,495.9 L698.6,495.5 L698.7,495.2 L698.8,494.8 L698.9,494.5M707.6,469.0 L707.8,468.7 L708.0,468.4 L708.2,468.1 L708.4,467.9 L708.6,467.6 L708.8,467.3 L709.0,467.0 L709.2,466.7 L709.4,466.4 L709.6,466.1 L709.9,465.8 L710.1,465.6 L710.3,465.3 L710.5,465.0 L710.8,464.7 L711.0,464.4 L711.2,464.1 L711.5,463.9 L711.7,463.6 L712.0,463.3 L712.2,463.0 L712.5,462.8 L712.7,462.5 L713.0,462.2 L713.2,462.0 L713.5,461.7 L713.8,461.4 L714.0,461.2 L714.3,460.9 L714.5,460.6 L714.8,460.4 L715.1,460.1 L715.3,459.8 L715.6,459.6 L715.9,459.3 L716.2,459.1 L716.4,458.8 L716.7,458.6 L717.0,458.3 L717.3,458.1 L717.5,457.8 L717.8,457.6 L718.1,457.4 L718.4,457.1 L718.7,456.9 L719.0,456.7 L719.2,456.4 L719.5,456.2 L719.8,456.0 L720.1,455.7 L720.4,455.5 L720.7,455.3 L720.9,455.1 L721.2,454.9 L721.5,454.7 L721.8,454.5 L722.1,454.2M748.0,441.7 L748.4,441.6 L748.7,441.4 L749.0,441.3 L749.3,441.2 L749.7,441.0 L750.0,440.9 L750.3,440.8 L750.7,440.6 L751.0,440.5 L751.3,440.4 L751.7,440.2 L752.0,440.1 L752.3,440.0 L752.7,439.9 L753.0,439.7 L753.4,439.6 L753.7,439.5 L754.0,439.3 L754.4,439.2 L754.7,439.1 L755.0,439.0 L755.4,438.8 L755.7,438.7 L756.0,438.6 L756.4,438.5 L756.7,438.4 L757.0,438.2 L757.4,438.1 L757.7,438.0 L758.1,437.9 L758.4,437.8 L758.7,437.6 L759.1,437.5 L759.4,437.4 L759.8,437.3 L760.1,437.2 L760.4,437.1 L760.8,437.0 L761.1,436.9 L761.5,436.7 L761.8,436.6 L762.1,436.5 L762.5,436.4 L762.8,436.3 L763.2,436.2 L763.5,436.1 L763.8,436.0 L764.2,435.9M790.3,430.2 L790.7,430.1 L791.0,430.0 L791.4,430.0 L791.7,429.9 L792.1,429.9 L792.4,429.8 L792.8,429.7 L793.1,429.7 L793.5,429.6 L793.8,429.5 L794.2,429.5 L794.5,429.4 L794.9,429.4 L795.3,429.3 L795.6,429.3 L796.0,429.2 L796.3,429.1 L796.7,429.1 L797.0,429.0 L797.4,429.0 L797.7,428.9 L798.1,428.8 L798.4,428.8 L798.8,428.7 L799.1,428.7 L799.5,428.6 L799.8,428.6 L800.2,428.5 L800.5,428.4 L800.9,428.4 L801.2,428.3 L801.6,428.3 L801.9,428.2 L802.3,428.2 L802.7,428.1 L803.0,428.1 L803.4,428.0 L803.7,428.0 L804.1,427.9 L804.4,427.8 L804.8,427.8 L805.1,427.7 L805.5,427.7 L805.8,427.6 L806.2,427.6 L806.5,427.5 L806.9,427.5 L807.2,427.4 L807.6,427.4 L808.0,427.3 L808.3,427.3 L808.7,427.2 L809.0,427.1 L809.4,427.1 L809.7,427.0 L810.1,427.0 L810.4,426.9 L810.8,426.9 L811.1,426.8 L811.5,426.8 L811.8,426.7 L812.2,426.7 L812.5,426.6 L812.9,426.6 L813.3,426.5M841.2,422.5 L841.5,422.4 L841.9,422.4 L842.2,422.3 L842.6,422.3 L842.9,422.2 L843.3,422.2 L843.7,422.1 L844.0,422.1 L844.4,422.1 L844.7,422.0 L845.1,422.0 L845.4,421.9 L845.8,421.9 L846.1,421.8 L846.5,421.8 L846.8,421.7 L847.2,421.7 L847.6,421.7 L847.9,421.6 L848.3,421.6 L848.6,421.5 L849.0,421.5 L849.3,421.4 L849.7,421.4 L850.0,421.4 L850.4,421.3 L850.7,421.3 L851.1,421.2 L851.5,421.2 L851.8,421.1 L852.2,421.1 L852.5,421.1 L852.9,421.0 L853.2,421.0 L853.6,420.9 L853.9,420.9 L854.3,420.9 L854.6,420.8 L855.0,420.8 L855.4,420.7 L855.7,420.7 L856.1,420.7 L856.4,420.6 L856.8,420.6 L857.1,420.5 L857.5,420.5 L857.8,420.5 L858.2,420.4 L858.6,420.4 L858.9,420.4 L859.3,420.3 L859.6,420.3 L860.0,420.2 L860.3,420.2 L860.7,420.2 L861.0,420.1 L861.4,420.1 L861.7,420.1 L862.1,420.0 L862.5,420.0 L862.8,420.0M892.7,417.8 L893.1,417.7 L893.4,417.7 L893.8,417.7 L894.2,417.7 L894.5,417.6 L894.9,417.6 L895.2,417.6 L895.6,417.6 L895.9,417.5 L896.3,417.5 L896.6,417.5 L897.0,417.5 L897.4,417.4 L897.7,417.4 L898.1,417.4 L898.4,417.4 L898.8,417.3 L899.1,417.3 L899.5,417.3 L899.9,417.2 L900.2,417.2 L900.6,417.2 L900.9,417.2 L901.3,417.1 L901.6,417.1 L902.0,417.1 L902.3,417.1 L902.7,417.0 L903.1,417.0 L903.4,417.0 L903.8,417.0 L904.1,416.9 L904.5,416.9 L904.8,416.9 L905.2,416.8 L905.6,416.8 L905.9,416.8 L906.3,416.8 L906.6,416.7 L907.0,416.7 L907.3,416.7 L907.7,416.7 L908.0,416.6 L908.4,416.6 L908.8,416.6 L909.1,416.5 L909.5,416.5 L909.8,416.5 L910.2,416.5 L910.5,416.4 L910.9,416.4 L911.2,416.4 L911.6,416.4M941.1,413.7 L941.5,413.7 L941.8,413.6 L942.2,413.6 L942.6,413.6 L942.9,413.6 L943.3,413.5 L943.6,413.5 L944.0,413.5 L944.3,413.4 L944.7,413.4 L945.0,413.4 L945.4,413.4 L945.8,413.3 L946.1,413.3 L946.5,413.3 L946.8,413.2 L947.2,413.2 L947.5,413.2 L947.9,413.2 L948.2,413.1 L948.6,413.1 L949.0,413.1 L949.3,413.1 L949.7,413.0 L950.0,413.0 L950.4,413.0 L950.7,413.0 L951.1,412.9 L951.5,412.9 L951.8,412.9 L952.2,412.9 L952.5,412.8 L952.9,412.8 L953.2,412.8 L953.6,412.8 L953.9,412.7 L954.3,412.7 L954.7,412.7 L955.0,412.7 L955.4,412.6 L955.7,412.6 L956.1,412.6 L956.4,412.6 L956.8,412.6 L957.2,412.5 L957.5,412.5 L957.9,412.5 L958.2,412.5 L958.6,412.5 L958.9,412.4 L959.3,412.4 L959.6,412.4 L960.0,412.4 L960.4,412.3 L960.7,412.3 L961.1,412.3 L961.4,412.3 L961.8,412.3 L962.1,412.2 L962.5,412.2 L962.9,412.2 L963.2,412.2 L963.6,412.2 L963.9,412.1 L964.3,412.1 L964.6,412.1 L965.0,412.1M993.2,410.7 L993.5,410.7 L993.9,410.7 L994.2,410.6 L994.6,410.6 L995.0,410.6 L995.3,410.6 L995.7,410.6 L996.0,410.6 L996.4,410.5 L996.7,410.5 L997.1,410.5 L997.5,410.5 L997.8,410.5 L998.2,410.5 L998.5,410.5 L998.9,410.4 L999.2,410.4 L999.6,410.4 L1000.0,410.4 L1000.3,410.4 L1000.7,410.4 L1001.0,410.4 L1001.4,410.3 L1001.7,410.3 L1002.1,410.3 L1002.5,410.3 L1002.8,410.3 L1003.2,410.3 L1003.5,410.3 L1003.9,410.2 L1004.2,410.2 L1004.6,410.2 L1005.0,410.2 L1005.3,410.2 L1005.7,410.2 L1006.0,410.2 L1006.4,410.1 L1006.7,410.1 L1007.1,410.1 L1007.5,410.1 L1007.8,410.1 L1008.2,410.1 L1008.5,410.1 L1008.9,410.1 L1009.2,410.0 L1009.6,410.0 L1009.9,410.0 L1010.3,410.0 L1010.7,410.0 L1011.0,410.0 L1011.4,410.0 L1011.7,409.9 L1012.1,409.9 L1012.4,409.9 L1012.8,409.9 L1013.2,409.9 L1013.5,409.9 L1013.9,409.9 L1014.2,409.9 L1014.6,409.9 L1014.9,409.8 L1015.3,409.8 L1015.7,409.8 L1016.0,409.8 L1016.4,409.8 L1016.7,409.8 L1017.1,409.8 L1017.4,409.8 L1017.8,409.7 L1018.2,409.7 L1018.5,409.7 L1018.9,409.7M1047.8,408.8 L1048.1,408.8 L1048.5,408.8 L1048.9,408.8 L1049.2,408.8 L1049.6,408.8 L1049.9,408.8 L1050.3,408.8 L1050.6,408.7 L1051.0,408.7 L1051.4,408.7 L1051.7,408.7 L1052.1,408.7 L1052.4,408.7 L1052.8,408.7 L1053.1,408.7 L1053.5,408.6 L1053.9,408.6 L1054.2,408.6 L1054.6,408.6 L1054.9,408.6 L1055.3,408.6 L1055.6,408.6 L1056.0,408.6 L1056.4,408.6 L1056.7,408.5 L1057.1,408.5 L1057.4,408.5 L1057.8,408.5 L1058.1,408.5 L1058.5,408.5 L1058.9,408.5 L1059.2,408.5 L1059.6,408.4 L1059.9,408.4 L1060.3,408.4 L1060.6,408.4 L1061.0,408.4 L1061.3,408.4 L1061.7,408.4 L1062.1,408.4 L1062.4,408.3 L1062.8,408.3 L1063.1,408.3 L1063.5,408.3 L1063.8,408.3 L1064.2,408.3 L1064.6,408.3 L1064.9,408.3 L1065.3,408.2 L1065.6,408.2 L1066.0,408.2 L1066.3,408.2 L1066.7,408.2 L1067.1,408.2 L1067.4,408.2 L1067.8,408.2M1096.7,407.1 L1097.0,407.1 L1097.4,407.0 L1097.7,407.0 L1098.1,407.0 L1098.5,407.0 L1098.8,407.0 L1099.2,407.0 L1099.5,407.0 L1099.9,406.9 L1100.2,406.9 L1100.6,406.9 L1101.0,406.9 L1101.3,406.9 L1101.7,406.9 L1102.0,406.9 L1102.4,406.9 L1102.7,406.8 L1103.1,406.8 L1103.5,406.8 L1103.8,406.8 L1104.2,406.8 L1104.5,406.8 L1104.9,406.8 L1105.2,406.8 L1105.6,406.7 L1106.0,406.7 L1106.3,406.7 L1106.7,406.7 L1107.0,406.7 L1107.4,406.7 L1107.7,406.7 L1108.1,406.7 L1108.5,406.7 L1108.8,406.6 L1109.2,406.6 L1109.5,406.6 L1109.9,406.6 L1110.2,406.6 L1110.6,406.6 L1111.0,406.6 L1111.3,406.6 L1111.7,406.5 L1112.0,406.5 L1112.4,406.5 L1112.7,406.5 L1113.1,406.5 L1113.5,406.5 L1113.8,406.5 L1114.2,406.5 L1114.5,406.5 L1114.9,406.4 L1115.2,406.4 L1115.6,406.4 L1116.0,406.4 L1116.3,406.4 L1116.7,406.4 L1117.0,406.4 L1117.4,406.4 L1117.7,406.3 L1118.1,406.3 L1118.5,406.3 L1118.8,406.3 L1119.2,406.3 L1119.5,406.3 L1119.9,406.3 L1120.2,406.3 L1120.6,406.3 L1120.9,406.2 L1121.3,406.2 L1121.7,406.2 L1122.0,406.2 L1122.4,406.2 L1122.7,406.2 L1123.1,406.2M1146.3,405.5 L1146.6,405.5 L1147.0,405.5 L1147.4,405.4 L1147.7,405.4 L1148.1,405.4 L1148.4,405.4 L1148.8,405.4 L1149.1,405.4 L1149.5,405.4 L1149.9,405.4 L1150.2,405.4 L1150.6,405.4 L1150.9,405.4 L1151.3,405.3 L1151.6,405.3 L1152.0,405.3 L1152.4,405.3 L1152.7,405.3 L1153.1,405.3 L1153.4,405.3 L1153.8,405.3 L1154.1,405.3 L1154.5,405.3 L1154.9,405.3 L1155.2,405.2 L1155.6,405.2 L1155.9,405.2 L1156.3,405.2 L1156.6,405.2 L1157.0,405.2 L1157.4,405.2 L1157.7,405.2 L1158.1,405.2 L1158.4,405.2 L1158.8,405.2 L1159.1,405.2 L1159.5,405.2 L1159.9,405.1 L1160.2,405.1 L1160.6,405.1 L1160.9,405.1 L1161.3,405.1 L1161.6,405.1 L1162.0,405.1 L1162.4,405.1 L1162.7,405.1 L1163.1,405.1 L1163.4,405.1 L1163.8,405.1 L1164.1,405.1 L1164.5,405.0 L1164.9,405.0 L1165.2,405.0" fill="none" stroke="#f80606" stroke-width="5.5" stroke-linecap="round" stroke-linejoin="round" clip-path="url(#ci)"/>
<rect x="688.8" y="313.5" width="475.70000000000005" height="217.0" fill="none" stroke="#000" stroke-width="3"/>
<path d="M768.1,530.5v-9M768.1,313.5v9M847.4,530.5v-9M847.4,313.5v9M926.6,530.5v-18M926.6,313.5v18M1005.9,530.5v-9M1005.9,313.5v9M1085.2,530.5v-9M1085.2,313.5v9M688.8,367.8h9M1164.5,367.8h-9M688.8,422.0h18M1164.5,422.0h-18M688.8,476.2h9M1164.5,476.2h-9" stroke="#000" stroke-width="3" fill="none"/>
<g style="font-family:'Liberation Sans',Arial,sans-serif;font-size:44.5px" fill="#000">
<text x="688.8" y="583" text-anchor="middle">0</text>
<text x="926.6" y="583" text-anchor="middle">300</text>
<text x="1164.5" y="583" text-anchor="middle">600</text>
<text x="669.6" y="326.7" text-anchor="end">0</text>
<text x="669.6" y="435.2" text-anchor="end">-50</text>
<text x="669.6" y="543.7" text-anchor="end">-100</text>
<text x="926" y="635.5" text-anchor="middle">t / s</text>
<text transform="translate(544.4,485.2) rotate(-90)">J / A <tspan dx="5.5">m</tspan><tspan font-size="26.5" dy="-23.4">-2</tspan></text>
<text x="1006" y="369">eq(7)</text>
<text x="1054" y="458">FEM</text>
<text x="726" y="487">eq(7)</text>
</g>
</svg></body></html>
